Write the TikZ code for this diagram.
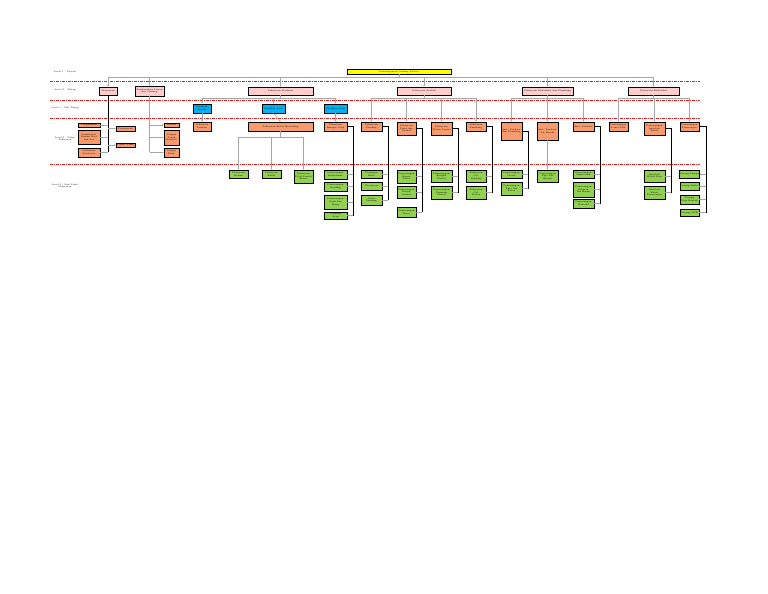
\documentclass[tikz,border=0pt]{standalone}
\usetikzlibrary{arrows.meta}
\definecolor{pk}{HTML}{FFCCCC}\definecolor{og}{HTML}{F79B6C}\definecolor{gr}{HTML}{92D050}
\definecolor{bl}{HTML}{00B0F0}\definecolor{yl}{HTML}{FFFF00}\definecolor{rd}{HTML}{D9201F}
\tikzset{
 bxs/.style={draw=black,line width=0.7pt,inner sep=0.2pt,align=center,font=\fontsize{2.2}{2.6}\selectfont},
 pkb/.style={bxs,fill=pk},ogb/.style={bxs,fill=og},grb/.style={bxs,fill=gr},
 blb/.style={bxs,fill=bl},ylb/.style={bxs,fill=yl},
 blk/.style={draw=black,line width=0.6pt},
 gry/.style={draw=gray!70,line width=0.5pt},
 arr/.style={gry,-{Stealth[length=1.5pt,width=1.5pt]}},
 lvl/.style={font=\fontsize{2.2}{2.6}\selectfont,align=center,inner sep=0},
 sep/.style={draw=rd,line width=0.6pt,dash pattern=on 3pt off 1pt on 1pt off 1pt}
}
\newcommand\bx[7]{%
 \pgfmathsetmacro\mycx{(#3+#5)/2}\pgfmathsetmacro\mycy{(#4+#6)/2}%
 \pgfmathsetmacro\myww{#5-#3}\pgfmathsetmacro\myhh{#6-#4}%
 \node[#2,minimum width=\myww pt,minimum height=\myhh pt] (#1) at (\mycx,\mycy) {#7};}
\newcommand\kids[4]{% parent xline last list
 \coordinate (L#1) at (#2,0);
 \draw[blk] (#1.east) -- (#1.east -| L#1) -- (#3.east -| L#1);
 \foreach \cc in {#4} {\draw[gry] (\cc.east) -- (\cc.east -| L#1);}}
\newcommand\tree[4]{% parent busy first last
 \coordinate (B#1) at (0,#2);
 \draw[gry] (#1.south) -- (#1.south |- B#1);
 \draw[gry] (#3.north |- B#1) -- (#4.north |- B#1);}
\newcommand\drop[2]{\draw[arr] (#1.north |- B#2) -- (#1.north);}
\begin{document}
\begin{tikzpicture}[x=1pt,y=-1pt]
\useasboundingbox (0,0) rectangle (768,594);
\fill[white] (0,0) rectangle (768,594);
\foreach \yy in {81,100,118,164} \draw[sep] (50,\yy) -- (700,\yy);
\node[lvl] (l1) at (65,72) {Level 1 : Proyek};
\node[lvl] (l2) at (65,90) {Level 2 : Tahap};
\node[lvl] (l3) at (65,108) {Level 3 : Sub Tahap};
\node[lvl] (l4) at (65,139) {Level 4 : Paket\\Pekerjaan};
\node[lvl] (l5) at (65,186) {Level 5 : Sub Paket\\Pekerjaan};
\bx{p}{ylb}{347}{69}{451}{74}{Pembangunan Gedung Kantor}
\bx{t1}{pkb}{99}{87}{117}{95}{Persiapan}
\bx{t2}{pkb}{135}{86}{164}{96}{Pembersihan Lahan\\dan Gudang}
\bx{t3}{pkb}{248}{87}{313}{95}{Pekerjaan Struktur}
\bx{t4}{pkb}{397}{87}{451}{95}{Pekerjaan Arsitek}
\bx{t5}{pkb}{522}{87}{573}{95}{Pekerjaan Mekanikal dan Plumbing}
\bx{t6}{pkb}{628}{87}{679}{95}{Pekerjaan Elektrikal}
\bx{s1}{blb}{193}{104}{211}{113}{Struktur\\Bawah}
\bx{s2}{blb}{262}{104}{285}{113}{Struktur Atas}
\bx{s3}{blb}{324}{104}{347}{113}{Struktur Atap}
\bx{a1}{ogb}{78}{123}{100}{127}{Pengukuran}
\bx{a2}{ogb}{78}{130}{100}{144}{Pembuatan\\Direksi Keet\\dan Los}
\bx{a3}{ogb}{78}{148}{100}{157}{Mobilisasi\\Peralatan}
\bx{a4}{ogb}{116}{126}{135}{131}{Pemagaran}
\bx{a5}{ogb}{116}{143}{135}{147}{Papan Nama}
\bx{b1}{ogb}{164}{123}{179}{127}{Galian}
\bx{b2}{ogb}{164}{130}{179}{145}{Urugan\\Tanah\\Kembali}
\bx{b3}{ogb}{164}{148}{179}{157}{Urugan\\Pasir}
\coordinate (pA) at (107,152);
\coordinate (pB) at (149,152);
\draw[blk] (t1.south) -- (t1.south |- pA);
\foreach \cc in {a1,a2,a3} \draw[gry] (\cc.east) -- (\cc.east -| t1.south);
\foreach \cc in {a4,a5} \draw[arr] (\cc.west -| t1.south) -- (\cc.west);
\draw[gry] (t2.south) -- (t2.south |- pB);
\foreach \cc in {b1,b2,b3} \draw[arr] (\cc.west -| t2.south) -- (\cc.west);
\bx{c1}{ogb}{193}{122}{211}{131}{Pekerjaan\\Pondasi}
\bx{c2}{ogb}{248}{122}{313}{131}{Pekerjaan Beton Bertulang}
\bx{c3}{ogb}{324}{122}{347}{131}{Pekerjaan\\Rangka Atap}
\draw[arr] (s1.south) -- (c1.north);
\draw[arr] (s2.south) -- (c2.north);
\draw[arr] (s3.south) -- (c3.north);
\bx{d1}{ogb}{361}{122}{382}{131}{Pekerjaan\\Dinding}
\bx{d2}{ogb}{397}{122}{416}{135}{Pekerjaan\\Pintu dan\\Jendela}
\bx{d3}{ogb}{431}{122}{452}{135}{Pekerjaan\\Plafon Lantai}
\bx{d4}{ogb}{466}{122}{486}{131}{Pekerjaan\\Finishing}
\bx{e1}{ogb}{501}{122}{522}{140}{Inst. Sanitasi\\dan Plumbing}
\bx{e2}{ogb}{537}{122}{558}{140}{Inst. Sanitasi\\Air Bersih}
\bx{e3}{ogb}{573}{122}{594}{131}{Inst. Sanitasi}
\bx{f1}{ogb}{609}{122}{628}{131}{Pemasangan\\Panel PLN}
\bx{f2}{ogb}{644}{122}{665}{135}{Pemasangan\\Instalasi\\Kabel}
\bx{f3}{ogb}{680}{122}{699}{131}{Pemasangan\\Penerangan}
\coordinate (bT) at (0,77);
\draw[gry] (p.south) -- (p.south |- bT);
\draw[gry] (t1.north |- bT) -- (t6.north |- bT);
\foreach \cc in {t1,t2,t3,t4,t5,t6} \draw[arr] (\cc.north |- bT) -- (\cc.north);
\tree{t3}{98}{s1}{s3}\foreach \cc in {s1,s2,s3}{\drop{\cc}{t3}}
\tree{t4}{98}{d1}{d4}\foreach \cc in {d1,d2,d3,d4}{\drop{\cc}{t4}}
\tree{t5}{98}{e1}{e3}\foreach \cc in {e1,e2,e3}{\drop{\cc}{t5}}
\tree{t6}{98}{f1}{f3}\foreach \cc in {f1,f2,f3}{\drop{\cc}{t6}}
\bx{g1}{grb}{229}{170}{248}{178}{Pekerjaan\\Kolom}
\bx{g2}{grb}{262}{170}{281}{178}{Pekerjaan\\Balok}
\bx{g3}{grb}{294}{170}{313}{183}{Pekerjaan\\Pelat Lantai\\Beton}
\tree{c2}{137}{g1}{g3}\foreach \cc in {g1,g2,g3}{\drop{\cc}{c2}}
\bx{h1}{grb}{324}{170}{347}{179}{Pemasangan\\Kuda-kuda}
\bx{h2}{grb}{324}{182}{347}{191}{Pemasangan\\Gording}
\bx{h3}{grb}{324}{195}{347}{209}{Pemasangan\\Usuk dan\\Reng}
\bx{h4}{grb}{324}{212}{347}{219}{Penutup\\Atap}
\kids{c3}{353}{h4}{h1,h2,h3,h4}
\bx{i1}{grb}{361}{170}{382}{178}{Pasangan\\Bata}
\bx{i2}{grb}{361}{182}{382}{190}{Plesteran}
\bx{i3}{grb}{361}{195}{382}{205}{Acian\\Dinding}
\kids{d1}{388}{i3}{i1,i2,i3}
\bx{j1}{grb}{397}{170}{416}{183}{Pemasangan\\Kusen\\Pintu}
\bx{j2}{grb}{397}{186}{416}{198}{Pemasangan\\Kusen\\Jendela}
\bx{j3}{grb}{397}{207}{416}{217}{Pemasangan\\Kaca}
\kids{d2}{422}{j3}{j1,j2,j3}
\bx{k1}{grb}{431}{170}{452}{182}{Pemasangan\\Rangka\\Plafon}
\bx{k2}{grb}{431}{186}{452}{199}{Pemasangan\\Penutup\\Plafon}
\kids{d3}{458}{k2}{k1,k2}
\bx{m1}{grb}{466}{170}{486}{182}{Pekerjaan\\Cat\\Dinding}
\bx{m2}{grb}{466}{186}{486}{199}{Pekerjaan\\Cat\\Plafon}
\kids{d4}{492}{m2}{m1,m2}
\bx{n1}{grb}{501}{170}{522}{178}{Pemasangan\\Closet}
\bx{n2}{grb}{501}{182}{522}{195}{Pemasangan\\Pipa Air\\Kotor}
\kids{e1}{528}{n2}{n1,n2}
\bx{o1}{grb}{537}{170}{558}{182}{Pemasangan\\Pipa Air\\Bersih}
\draw[arr] (e2.south) -- (o1.north);
\bx{q1}{grb}{573}{170}{594}{178}{Pemasangan\\Septictank}
\bx{q2}{grb}{573}{182}{594}{197}{Pemasangan\\Saluran\\Air Hujan}
\bx{q3}{grb}{573}{199}{594}{208}{Pemasangan\\Wastafel}
\kids{e3}{600}{q3}{q1,q2,q3}
\bx{r1}{grb}{644}{170}{665}{182}{Instalasi\\Kabel Stop}
\bx{r2}{grb}{644}{186}{665}{199}{Instalasi\\Kabel\\Penerangan}
\kids{f2}{671}{r2}{r1,r2}
\bx{u1}{grb}{680}{170}{699}{178}{Pasang Lampu}
\bx{u2}{grb}{680}{182}{699}{190}{Pasang Saklar}
\bx{u3}{grb}{680}{195}{699}{204}{Pasang\\Stop Kontak}
\bx{u4}{grb}{680}{209}{699}{216}{Pasang MCB}
\kids{f3}{706}{u4}{u1,u2,u3,u4}
\end{tikzpicture}
\end{document}
